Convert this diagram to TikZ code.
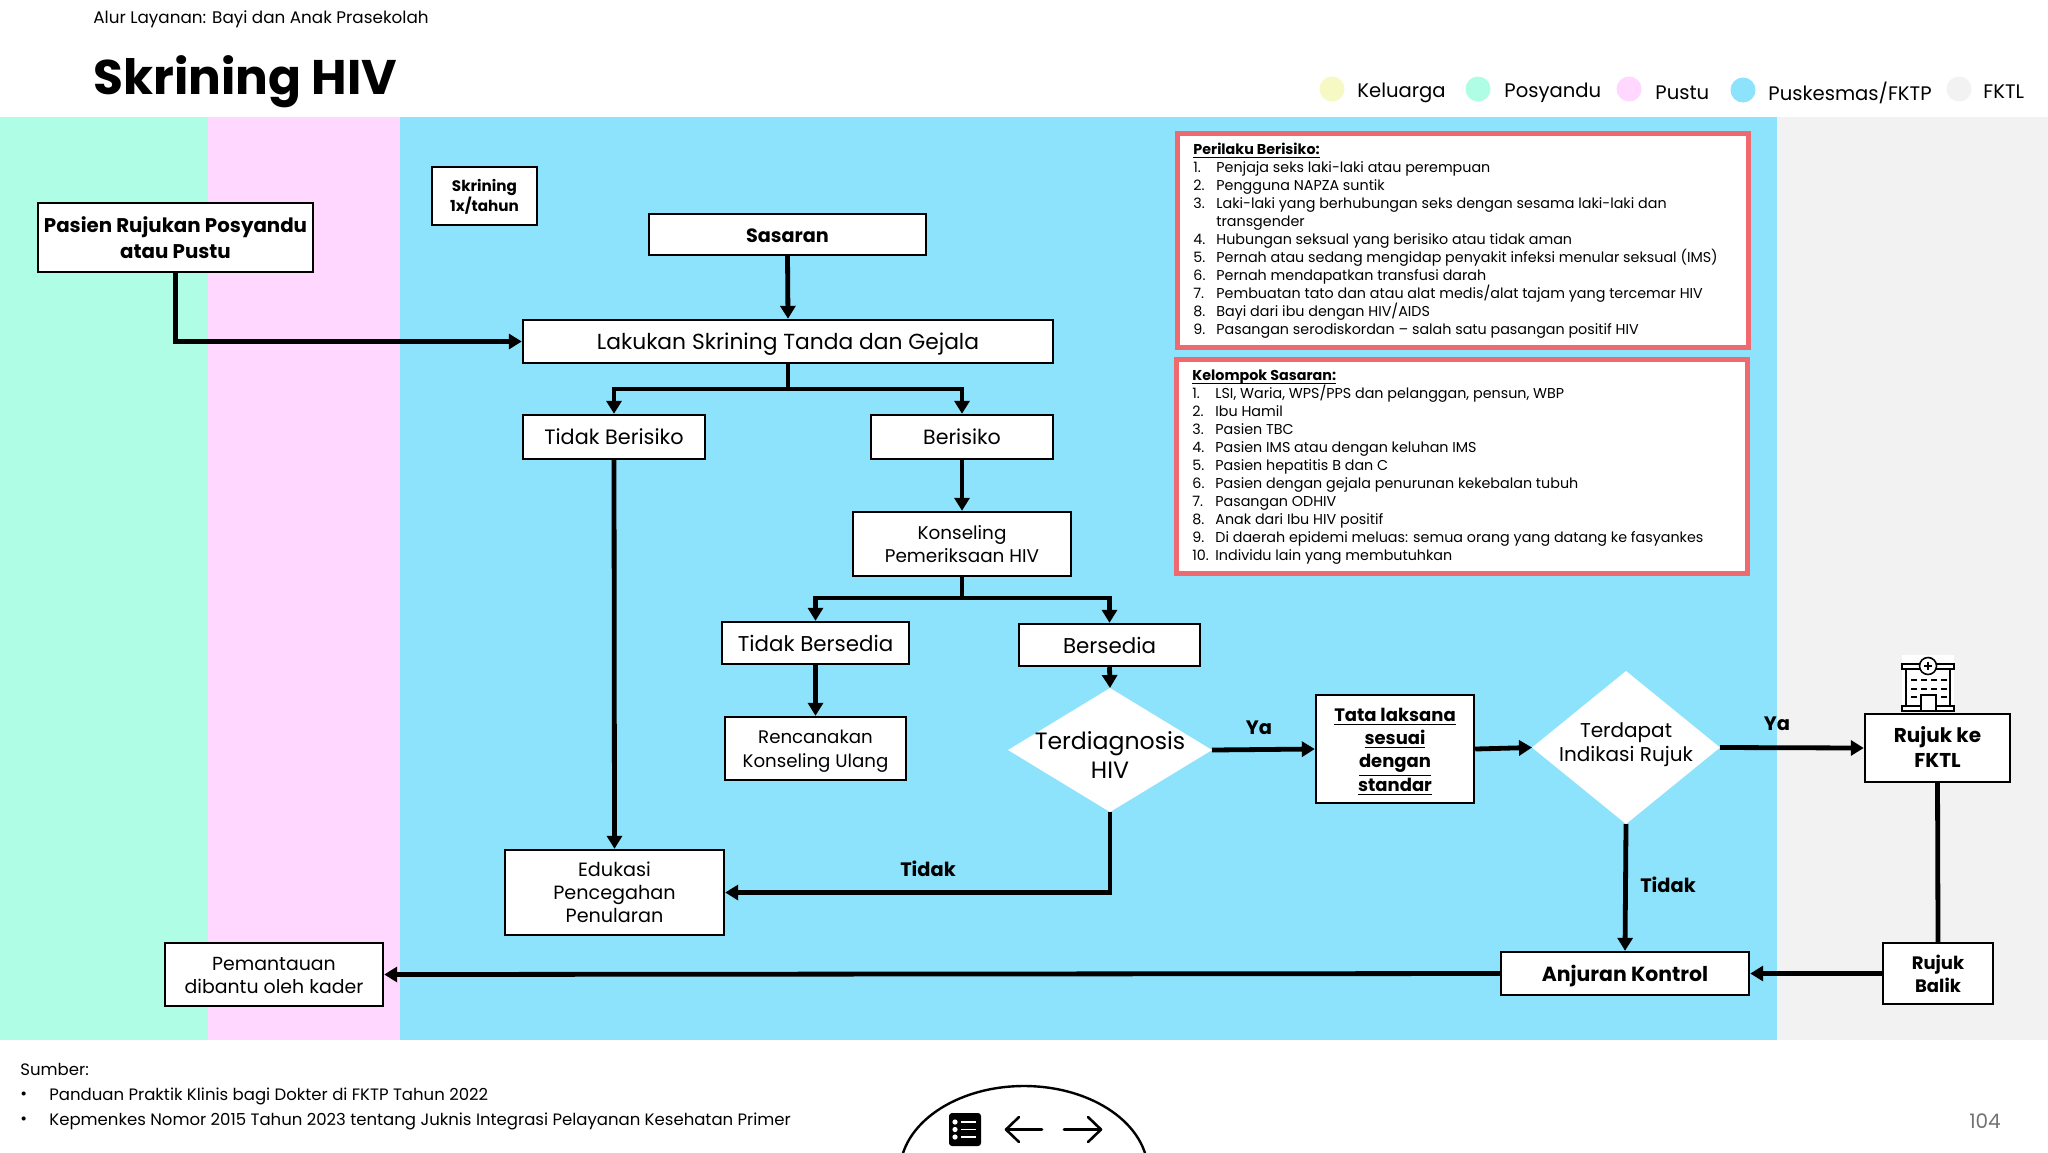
\documentclass[tikz,border=0pt]{standalone}
\usepackage{fontspec}
\setmainfont{Poppins}
\usetikzlibrary{arrows.meta,shapes.geometric}
\definecolor{mintc}{HTML}{AFFDE5}
\definecolor{pinkc}{HTML}{FFD7FF}
\definecolor{bluec}{HTML}{8DE2FC}
\definecolor{greyc}{HTML}{F2F2F2}
\definecolor{yellc}{HTML}{F7F9C4}
\definecolor{redc}{HTML}{EF6A6E}
\newcommand{\fz}[2]{\fontsize{#1}{#2}\selectfont}
\newcommand{\itm}[1]{\makebox[11.5pt][l]{#1}}
\newcommand{\listhead}[1]{\rule{0pt}{5.5pt}\underline{\smash{\textbf{#1}}}}
\newcommand{\bx}[7][]{\node[flowbox,minimum width={(#4-#2)*.5pt},minimum height={(#5-#3)*.5pt}] (#6) at ({(#2+#4)/2},{(#3+#5)/2}) {};
  \node[boxtext,#1] (#6t) at (#6.center) {#7};}
\tikzset{
  flowbox/.style={draw=black,fill=white,line width=1.2pt,inner sep=0pt},
  boxtext/.style={inner sep=0pt,align=center},
  riskbox/.style={draw=redc,fill=white,line width=2.5pt,inner sep=0pt},
  conn/.style={line width=2.4pt,draw=black},
  arr/.style={conn,-{Triangle[length=6.5pt,width=7.5pt]}},
  dia/.style={diamond,fill=white,inner sep=0pt,outer sep=0pt},
  listtext/.style={align=left,inner sep=0pt,font=\fz{7.15}{9}},
  plaintext/.style={inner sep=0pt,anchor=west},
  lbl/.style={inner sep=0pt,font=\fz{9.7}{12}\bfseries},
  legtext/.style={inner sep=0pt,anchor=west,font=\fz{9.8}{12}},
  src/.style={inner sep=0pt,anchor=west,font=\fz{8.26}{10}},
  iconline/.style={line width=.8pt,draw=black}
}
\begin{document}
\begin{tikzpicture}[x=.5pt,y=-.5pt]
\useasboundingbox (0,0) rectangle (2048,1152);
\begin{scope}
\clip (0,0) rectangle (2048,1152);
\fill[white] (0,0) rectangle (2048,1152);
% bands
\fill[mintc] (0,117) rectangle (208,1040);
\fill[pinkc] (208,117) rectangle (400,1040);
\fill[bluec] (400,117) rectangle (1777,1040);
\fill[greyc] (1777,117) rectangle (2048,1040);
% header
\node[plaintext,font=\fz{8.4}{10}] (crumb) at (93,19) {Alur Layanan: Bayi dan Anak Prasekolah};
\node[plaintext,font=\fz{24.3}{30}\bfseries] (title) at (93,82) {Skrining HIV};
% legend
\fill[yellc] (1332,89) circle (12.5);
\node[legtext] (l1) at (1357,93) {Keluarga};
\fill[mintc] (1478,89) circle (12.5);
\node[legtext] (l2) at (1504,93) {Posyandu};
\fill[pinkc] (1629,89) circle (12.5);
\node[legtext] (l3) at (1655,93) {Pustu};
\fill[bluec] (1743,90) circle (12.5);
\node[legtext] (l4) at (1768,93) {Puskesmas/FKTP};
\fill[greyc] (1959,89) circle (12.5);
\node[legtext] (l5) at (1983,92) {FKTL};
% risk boxes
\node[riskbox,minimum width=285.5pt,minimum height=107pt] (rb1) at (1463,240) {};
\node[riskbox,minimum width=285.5pt,minimum height=107pt] (rb2) at (1462,466) {};
\node[listtext,anchor=north west] (rt1) at (1193,143) {%
\listhead{Perilaku Berisiko:}\\
\itm{1.}Penjaja seks laki-laki atau perempuan\\
\itm{2.}Pengguna NAPZA suntik\\
\itm{3.}Laki-laki yang berhubungan seks dengan sesama laki-laki dan\\
\itm{}transgender\\
\itm{4.}Hubungan seksual yang berisiko atau tidak aman\\
\itm{5.}Pernah atau sedang mengidap penyakit infeksi menular seksual (IMS)\\
\itm{6.}Pernah mendapatkan transfusi darah\\
\itm{7.}Pembuatan tato dan atau alat medis/alat tajam yang tercemar HIV\\
\itm{8.}Bayi dari ibu dengan HIV/AIDS\\
\itm{9.}Pasangan serodiskordan – salah satu pasangan positif HIV};
\node[listtext,anchor=north west] (rt2) at (1192,369) {%
\listhead{Kelompok Sasaran:}\\
\itm{1.}LSI, Waria, WPS/PPS dan pelanggan, pensun, WBP\\
\itm{2.}Ibu Hamil\\
\itm{3.}Pasien TBC\\
\itm{4.}Pasien IMS atau dengan keluhan IMS\\
\itm{5.}Pasien hepatitis B dan C\\
\itm{6.}Pasien dengan gejala penurunan kekebalan tubuh\\
\itm{7.}Pasangan ODHIV\\
\itm{8.}Anak dari Ibu HIV positif\\
\itm{9.}Di daerah epidemi meluas: semua orang yang datang ke fasyankes\\
\itm{10.}Individu lain yang membutuhkan};
% flow boxes
\bx[font={\fz{9.9}{13}\bfseries}]{38}{203}{313}{272}{pasien}{Pasien Rujukan Posyandu\\atau Pustu}
\bx[yshift=-.6pt,font={\fz{7.6}{10}\bfseries}]{432}{167}{537}{225}{skr}{Skrining\\1x/tahun}
\bx[yshift=-.6pt,font={\fz{9.6}{13}\bfseries}]{649}{214}{926}{255}{sasaran}{Sasaran}
\bx[yshift=-1.3pt,font={\fz{10.9}{13}}]{523}{320}{1053}{363}{lakukan}{Lakukan Skrining Tanda dan Gejala}
\bx[font={\fz{10.4}{13}}]{523}{415}{705}{459}{tb}{Tidak Berisiko}
\bx[font={\fz{10.3}{13}}]{871}{415}{1053}{459}{ber}{Berisiko}
\bx[font={\fz{9.2}{11.7}}]{853}{512}{1071}{576}{kons}{Konseling\\Pemeriksaan HIV}
\bx[font={\fz{10.7}{13}}]{722}{622}{909}{664}{tbs}{Tidak Bersedia}
\bx[font={\fz{10.7}{13}}]{1019}{624}{1200}{666}{bs}{Bersedia}
\bx[yshift=-1.3pt,font={\fz{9.1}{11.7}}]{725}{717}{906}{780}{ren}{Rencanakan\\Konseling Ulang}
\bx[font={\fz{9.6}{11.5}}]{505}{850}{724}{935}{edu}{Edukasi\\Pencegahan\\Penularan}
\bx[yshift=-.6pt,font={\fz{9.45}{11.7}}]{165}{943}{383}{1006}{pem}{Pemantauan\\dibantu oleh kader}
\bx[yshift=-1.3pt,font={\fz{9}{11.6}\bfseries}]{1316}{695}{1474}{803}{tata}{\underline{Tata laksana}\\\underline{sesuai}\\\underline{dengan}\\\underline{standar}}
\bx[yshift=-1.3pt,font={\fz{10.2}{13}\bfseries}]{1501}{952}{1749}{995}{anj}{Anjuran Kontrol}
\bx[yshift=.4pt,font={\fz{10}{12.5}\bfseries}]{1865}{714}{2010}{782}{fktl}{Rujuk ke\\FKTL}
\bx[font={\fz{9}{11.5}\bfseries}]{1883}{943}{1993}{1004}{balik}{Rujuk\\Balik}
% diamonds
\node[dia,minimum width=102pt,minimum height=62pt,label={[align=center,inner sep=0pt,yshift=-2.6pt,font=\fz{11.8}{14.5}]center:Terdiagnosis\\HIV}] (dhiv) at (1110,750) {};
\node[dia,minimum width=94pt,minimum height=76.5pt,label={[align=center,inner sep=0pt,yshift=1.3pt,font=\fz{10}{12.2}]center:Terdapat\\Indikasi Rujuk}] (drj) at (1626,747.5) {};
% icon
\fill[white] (1902,655) rectangle (1954,711);
\draw[iconline] (1906,669) rectangle (1950,706);
\draw[iconline,fill=white] (1902,664) rectangle (1954,669);
\draw[iconline,fill=white] (1902,706) rectangle (1954,711);
\draw[iconline,fill=white] (1928,666) circle (8.5);
\draw[iconline] (1924,666) -- (1932,666) (1928,662) -- (1928,670);
\foreach \yy in {680,689}{\foreach \xx in {1911,1921,1931,1941}{\draw[iconline] (\xx,\yy) -- +(6,0);}}
\draw[iconline] (1911,697) -- +(6,0) (1941,697) -- +(6,0);
\draw[iconline,fill=white] (1921,695) rectangle (1936,711);
% connector way points
\coordinate (j1) at (788,389);
\coordinate (j2) at (962,598);
% connectors
\draw[arr] (pasien.south) |- (lakukan.west);
\draw[arr] (sasaran.south) -- (lakukan.north);
\draw[conn] (lakukan.south) -- (j1);
\draw[arr] (j1) -| (tb.north);
\draw[arr] (j1) -| (ber.north);
\draw[arr] (tb.south) -- (edu.north);
\draw[arr] (ber.south) -- (kons.north);
\draw[conn] (kons.south) -- (j2);
\draw[arr] (j2) -| (tbs.north);
\draw[arr] (j2) -| (bs.north);
\draw[arr] (tbs.south) -- (ren.north);
\draw[arr] (bs.south) -- (dhiv.north);
\draw[arr] (dhiv.east) -- (tata.west);
\draw[arr] (tata.east) -- (drj.west);
\draw[arr] (drj.east) -- (fktl.west);
\draw[arr] (dhiv.south) |- (edu.east);
\draw[arr] (drj.south) -- (anj.north);
\draw[conn] (fktl.south) -- (balik.north);
\draw[arr] (balik.west) -- (anj.east);
\draw[arr] (anj.west) -- (pem.east);
% labels
\node[lbl] (ya1) at (1259,728) {Ya};
\node[lbl] (td1) at (928,869) {Tidak};
\node[lbl] (ya2) at (1777,724) {Ya};
\node[lbl] (td2) at (1668,885) {Tidak};
% sources
\node[src] (s0) at (20,1069) {Sumber:};
\node[src] (s1b) at (20,1096) {•};
\node[src] (s1) at (49,1096) {Panduan Praktik Klinis bagi Dokter di FKTP Tahun 2022};
\node[src] (s2b) at (20,1121) {•};
\node[src] (s2) at (49,1121) {Kepmenkes Nomor 2015 Tahun 2023 tentang Juknis Integrasi Pelayanan Kesehatan Primer};
\node[inner sep=0pt,text=black!55,font=\fz{10}{12}] (pg) at (1985,1121) {104};
% nav
\draw[line width=1.2pt,fill=white] (1024,1172) ellipse (124 and 86);
\fill[black,rounded corners=1.5pt] (949,1113) rectangle (981,1146);
\foreach \yy in {1122,1129.5,1137}{\fill[white] (955,\yy) circle (2.6);\draw[white,line width=.8pt] (961,\yy) -- (976,\yy);}
\draw[line width=1.3pt,line cap=round,line join=round] (1042,1129.5) -- (1006,1129.5) (1019,1117) -- (1006,1129.5) -- (1019,1142);
\draw[line width=1.3pt,line cap=round,line join=round] (1064,1129.5) -- (1101,1129.5) (1088,1117) -- (1101,1129.5) -- (1088,1142);
\end{scope}
\end{tikzpicture}
\end{document}
